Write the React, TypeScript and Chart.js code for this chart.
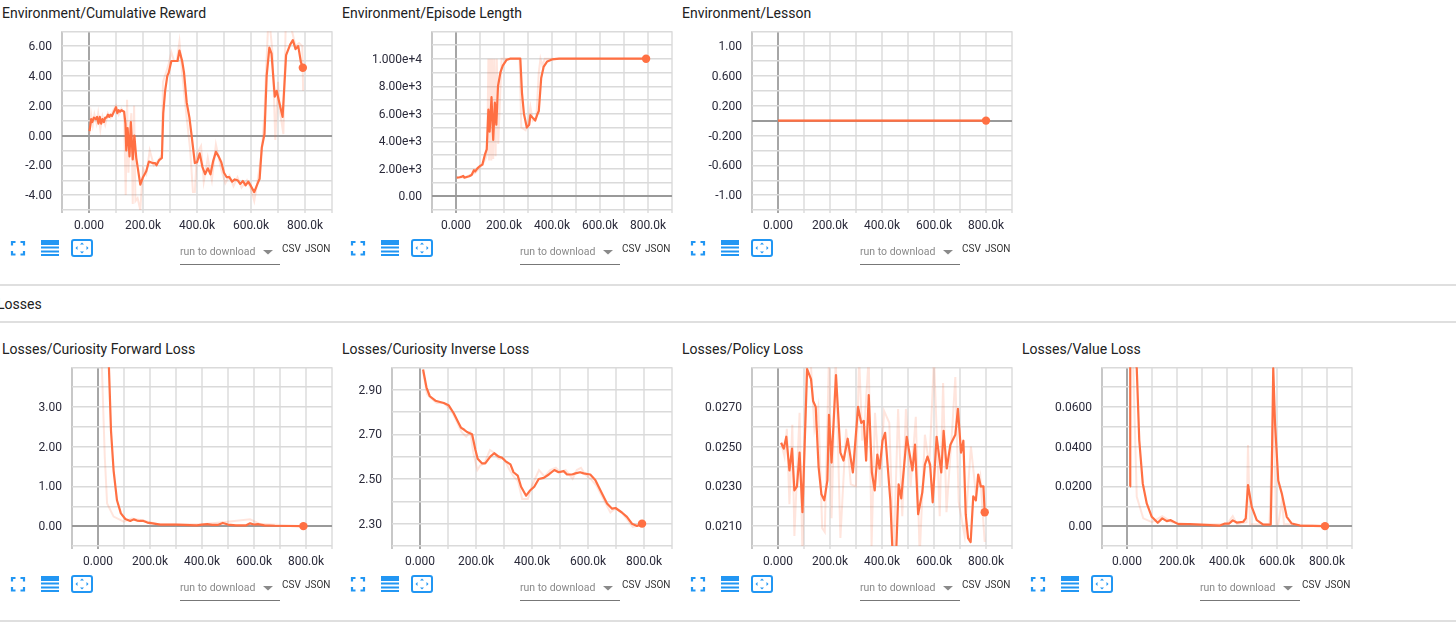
import React, { useEffect, useRef } from "react";
import { Chart, registerables } from "chart.js";

Chart.register(...registerables);

const ORANGE = "#ff7043";
const FAINT = "rgba(255,112,67,0.18)";
const FONT = "Roboto";

// Steps are in thousands.
const rewardSteps = [2,5,8,12,18,25,30,35,40,45,50,55,60,65,70,75,80,85,90,100,105,110,115,120,130,135,138,143,150,155,162,168,175,190,200,212,222,235,245,250,260,270,275,282,290,295,305,320,328,335,345,352,362,372,380,392,400,410,420,430,440,450,460,470,480,490,500,510,520,530,540,550,560,570,580,590,600,612,625,632,640,650,658,668,676,688,695,705,717,730,745,755,765,775,785,792];
const rewardSmooth = [0.3,0.7,1.1,0.9,1.2,1.1,1.25,0.8,1.25,0.8,1.1,0.9,1.2,1.2,1.4,1.25,1.4,1.3,1.5,1.9,1.5,1.7,1.6,1.7,1.6,0.8,-1.0,0.5,-1.4,0.9,-1.6,0,-1.5,-3.3,-2.8,-2.4,-1.75,-1.85,-1.85,-2.0,-1.65,-1.5,1.5,3,4,4.2,5,5,5,5.7,5,4.2,2.2,1.2,0,-1.85,-1.8,-1.2,-2.1,-2.6,-2.2,-2.6,-1.7,-1.1,-1.4,-1.8,-2.5,-2.8,-2.8,-3.1,-2.95,-3.0,-3.25,-3.05,-3.35,-3.1,-3.4,-3.8,-3.2,-2.9,-0.8,0.1,4,5.9,5.5,2.6,3,2.2,1.25,5.4,6.1,6.4,5.8,6.0,4.9,4.55];
const rewardRawSteps = [2,8,14,20,28,34,42,50,60,70,80,90,100,110,120,130,136,141,146,152,157,162,167,172,180,190,200,212,225,240,255,270,274,285,295,305,315,325,335,345,360,375,385,392,400,415,425,440,455,470,490,505,520,535,550,565,585,600,612,625,640,650,655,665,672,680,690,700,708,720,728,740,752,765,778,790,793];
const rewardRaw = [0.1,1.4,0.7,1.4,0.8,1.5,0.4,1.3,0.7,1.5,1.2,1.7,2.0,1.4,1.8,1.5,-4,2.4,-2.5,0.5,1.5,-4.6,2,-4.4,-4.2,-5,-2.2,-2.6,-1,-2,-1.7,-1.3,3.6,4.2,4.8,5.6,5,5,6.3,4.2,1.5,-1,-3.8,-3.8,-1.2,-0.7,-3.1,-1.5,-3,-0.6,-2.3,-3.2,-2.7,-3.4,-2.8,-3.5,-3,-3.6,-4.4,-3,-1,1.5,4,8,7,5.5,-0.3,3.6,1.5,0.1,7,8,7,6,6.2,6,3];

const lengthSteps = [3,15,25,30,35,45,55,65,75,80,90,100,110,120,128,135,140,148,155,162,168,175,185,195,210,225,268,275,283,295,305,310,320,330,340,345,355,365,380,400,430,792];
const lengthSmooth = [1350,1380,1430,1480,1350,1400,1450,1550,1900,1800,2050,2200,2300,3000,3400,6300,4700,7200,4100,6800,5200,8000,9000,9500,9900,10000,10000,7500,6000,5000,5200,5900,5700,5500,6000,6200,8600,9400,9800,9950,10000,10000];
const lengthRawSteps = [3,40,80,110,125,130,135,138,143,147,151,155,160,165,170,176,190,265,272,290,300,310,320,335,345,352,360,370,792];
const lengthRaw = [1350,1400,1700,2300,2800,3200,10000,2600,10000,2600,10000,2700,10000,2900,10000,3800,10000,10000,5000,4800,5300,6500,5500,5800,9000,10000,9500,10000,10000];

const lessonSteps = [0,800];
const lessonValues = [0,0];

const forwardSteps = [30,42,50,60,73,88,105,124,137,150,160,175,190,210,240,300,380,400,420,440,460,480,500,530,570,585,600,615,640,680,790];
const forwardSmooth = [8,4,2.4,1.4,0.65,0.32,0.18,0.13,0.17,0.14,0.13,0.13,0.09,0.07,0.04,0.04,0.02,0.04,0.05,0.03,0.03,0.08,0.04,0.02,0.02,0.07,0.04,0.05,0.02,0.01,0];
const forwardRawSteps = [15,26,35,60,99,130,170,230,300,400,480,585,620,790];
const forwardRaw = [4,1.75,0.57,0.24,0.11,0.19,0.15,0.05,0.05,0.05,0.1,0.17,0.06,0];

const inverseSteps = [11,23,35,55,85,102,120,132,146,158,168,186,198,206,221,233,251,265,281,293,305,323,334,349,361,379,392,408,424,442,460,480,495,513,525,543,555,572,584,608,626,650,668,686,698,721,739,757,775,793];
const inverseSmooth = [2.99,2.91,2.87,2.85,2.84,2.83,2.795,2.765,2.73,2.72,2.71,2.70,2.63,2.59,2.57,2.57,2.60,2.615,2.60,2.595,2.58,2.565,2.53,2.515,2.465,2.425,2.447,2.465,2.50,2.505,2.52,2.54,2.53,2.535,2.52,2.52,2.525,2.53,2.525,2.52,2.495,2.435,2.39,2.367,2.37,2.35,2.33,2.30,2.29,2.30];
const inverseRawSteps = [11,25,40,60,85,110,130,148,165,180,190,205,215,230,250,262,280,300,320,335,350,365,385,400,425,445,465,485,500,520,545,560,575,590,610,630,655,680,700,720,745,760,775,793];
const inverseRaw = [2.98,2.88,2.86,2.84,2.84,2.81,2.76,2.71,2.69,2.71,2.62,2.54,2.56,2.57,2.63,2.62,2.59,2.59,2.54,2.51,2.49,2.41,2.41,2.47,2.54,2.51,2.54,2.55,2.53,2.54,2.50,2.54,2.55,2.52,2.50,2.47,2.41,2.35,2.37,2.35,2.31,2.285,2.29,2.30];

const policySteps = [12,22,32,44,54,63,73,83,94,103,112,127,135,145,156,167,178,190,196,206,223,240,252,268,288,308,320,330,339,349,361,372,382,391,402,412,432,441,454,464,474,495,517,527,539,555,565,575,585,595,610,628,637,649,663,682,692,704,713,722,731,741,751,761,770,780,790,795];
const policySmooth = [0.0252,0.0249,0.0255,0.0238,0.0249,0.0228,0.023,0.0247,0.0217,0.0253,0.0289,0.0284,0.0273,0.027,0.024,0.0226,0.0223,0.0233,0.0266,0.0242,0.0286,0.0247,0.0243,0.0254,0.0237,0.027,0.0262,0.0263,0.0243,0.0276,0.0237,0.0228,0.0246,0.0239,0.0253,0.0257,0.0223,0.0195,0.0195,0.0231,0.0224,0.0255,0.0238,0.0251,0.0216,0.0227,0.0241,0.0245,0.0241,0.0222,0.0255,0.0237,0.0258,0.0239,0.0251,0.0256,0.0269,0.0247,0.0253,0.0216,0.0204,0.0202,0.0225,0.0223,0.0236,0.023,0.023,0.0217];
const policyRawSteps = [12,25,34,44,55,63,83,94,110,125,140,155,170,180,196,206,222,240,262,280,300,312,324,334,349,360,373,392,408,428,445,462,478,492,510,530,545,565,582,600,622,635,648,672,682,695,718,742,762,778,795];
const policyRaw = [0.0252,0.0245,0.0259,0.0221,0.0261,0.0205,0.0267,0.0195,0.0295,0.0295,0.0259,0.027,0.0209,0.0207,0.0295,0.0214,0.0295,0.0204,0.0259,0.0231,0.023,0.0295,0.0253,0.0264,0.0295,0.02,0.0267,0.023,0.0268,0.0262,0.0195,0.0269,0.0215,0.0269,0.023,0.0265,0.0195,0.0256,0.024,0.0295,0.0215,0.0282,0.0217,0.0263,0.0285,0.0222,0.0205,0.025,0.0225,0.0235,0.0202];

const valueSteps = [12,13,39,49,63,79,99,123,141,159,175,205,252,372,392,409,423,439,465,475,484,499,519,545,575,579,585,592,605,619,639,659,692,792];
const valueSmooth = [0.02,0.095,0.0795,0.0433,0.0215,0.0114,0.0047,0.0017,0.0039,0.0025,0.003,0.001,0.001,0.0003,0.0013,0.0013,0.0029,0.0018,0.0022,0.0039,0.0207,0.0097,0.003,0.0008,0.0008,0.0265,0.0795,0.052,0.023,0.0165,0.0047,0.0013,0.0003,0];
const valueRawSteps = [25,39,65,100,141,180,250,400,423,440,478,484,492,570,585,597,605,620,628,650,792];
const valueRaw = [0.08,0.0148,0.0039,0.002,0.005,0.002,0.001,0.001,0.005,0.001,0.002,0.0408,0.001,0.001,0.06,0.001,0.001,0.013,0.001,0.001,0];

const xTickLabels = ["0.000","200.0k","400.0k","600.0k","800.0k"];
const xTickValues = [0,200,400,600,800];

type Panel = {
  title: string; x0: number; off: number; plotLeft: number;
  yMin: number; yMax: number; yStep: number;
  yTicks: number[]; yLabels: string[];
  steps: number[]; smooth: number[]; rawSteps: number[]; raw: number[];
};

const panels: Panel[] = [
  { title: "Environment/Cumulative Reward", x0: 0, off: 0, plotLeft: 62, yMin: -5, yMax: 7, yStep: 1,
    yTicks: [6,4,2,0,-2,-4], yLabels: ["6.00","4.00","2.00","0.00","-2.00","-4.00"],
    steps: rewardSteps, smooth: rewardSmooth, rawSteps: rewardRawSteps, raw: rewardRaw },
  { title: "Environment/Episode Length", x0: 340, off: 0, plotLeft: 92, yMin: -1000, yMax: 12000, yStep: 1000,
    yTicks: [10000,8000,6000,4000,2000,0], yLabels: ["1.000e+4","8.00e+3","6.00e+3","4.00e+3","2.00e+3","0.00"],
    steps: lengthSteps, smooth: lengthSmooth, rawSteps: lengthRawSteps, raw: lengthRaw },
  { title: "Environment/Lesson", x0: 680, off: 0, plotLeft: 72, yMin: -1.2, yMax: 1.2, yStep: 0.2,
    yTicks: [1,0.6,0.2,-0.2,-0.6,-1], yLabels: ["1.00","0.600","0.200","-0.200","-0.600","-1.00"],
    steps: lessonSteps, smooth: lessonValues, rawSteps: lessonSteps, raw: lessonValues },
  { title: "Losses/Curiosity Forward Loss", x0: 0, off: 336, plotLeft: 72, yMin: -0.5, yMax: 4, yStep: 0.5,
    yTicks: [3,2,1,0], yLabels: ["3.00","2.00","1.00","0.00"],
    steps: forwardSteps, smooth: forwardSmooth, rawSteps: forwardRawSteps, raw: forwardRaw },
  { title: "Losses/Curiosity Inverse Loss", x0: 340, off: 336, plotLeft: 52, yMin: 2.2, yMax: 3, yStep: 0.1,
    yTicks: [2.9,2.7,2.5,2.3], yLabels: ["2.90","2.70","2.50","2.30"],
    steps: inverseSteps, smooth: inverseSmooth, rawSteps: inverseRawSteps, raw: inverseRaw },
  { title: "Losses/Policy Loss", x0: 680, off: 336, plotLeft: 72, yMin: 0.02, yMax: 0.029, yStep: 0.001,
    yTicks: [0.027,0.025,0.023,0.021], yLabels: ["0.0270","0.0250","0.0230","0.0210"],
    steps: policySteps, smooth: policySmooth, rawSteps: policyRawSteps, raw: policyRaw },
  { title: "Losses/Value Loss", x0: 1020, off: 336, plotLeft: 82, yMin: -0.01, yMax: 0.08, yStep: 0.01,
    yTicks: [0.06,0.04,0.02,0], yLabels: ["0.0600","0.0400","0.0200","0.00"],
    steps: valueSteps, smooth: valueSmooth, rawSteps: valueRawSteps, raw: valueRaw },
];

const zip = (xs: number[], ys: number[]) => xs.map((x, i) => ({ x, y: ys[i] }));

function PanelChart({ p }: { p: Panel }) {
  const ref = useRef<HTMLCanvasElement>(null);
  useEffect(() => {
    const last = p.steps.length - 1;
    const chart = new Chart(ref.current!, {
      type: "line",
      data: {
        datasets: [
          { data: zip(p.rawSteps, p.raw), borderColor: FAINT, borderWidth: 2, pointRadius: 0, tension: 0 },
          { data: zip(p.steps, p.smooth), borderColor: ORANGE, backgroundColor: ORANGE, borderWidth: 2.2, tension: 0,
            borderJoinStyle: "round",
            pointRadius: (c: any) => (c.dataIndex === last ? 4.2 : 0), pointBorderWidth: 0 },
        ],
      },
      options: {
        animation: false, responsive: false,
        parsing: false as any,
        layout: { autoPadding: false, padding: { left: 0, top: 7, right: 8, bottom: 0 } },
        plugins: { legend: { display: false }, tooltip: { enabled: false }, title: { display: false } },
        scales: {
          x: {
            type: "linear", min: -100, max: 900,
            afterFit: (s: any) => { s.height = 40; },
            border: { display: false },
            grid: {
              tickLength: 3,
              color: (c: any) => (c.tick.value === 0 ? "#a6a6a6" : c.tick.value === -100 ? "#c8c8c8" : "#e5e5e5"),
              lineWidth: 2,
            },
            ticks: {
              stepSize: 100, autoSkip: false, maxRotation: 0, padding: 6,
              color: "#2a2a3a", font: { family: FONT, size: 12 },
              callback: (v: any) => { const i = xTickValues.indexOf(Number(v)); return i >= 0 ? xTickLabels[i] : ""; },
            },
          },
          y: {
            type: "linear", min: p.yMin, max: p.yMax,
            afterFit: (s: any) => { s.width = p.plotLeft; },
            border: { display: false },
            grid: {
              drawTicks: false,
              color: (c: any) => (Math.abs(c.tick.value) < p.yStep / 10 ? "#999999" : "#dadada"),
              lineWidth: (c: any) => (Math.abs(c.tick.value) < p.yStep / 10 ? 2 : 1.4),
            },
            ticks: {
              stepSize: p.yStep, autoSkip: false, padding: 10, labelOffset: 1,
              color: "#2a2a3a", font: { family: FONT, size: 12 },
              callback: (v: any) => {
                const i = p.yTicks.findIndex((t) => Math.abs(t - Number(v)) < p.yStep / 10);
                return i >= 0 ? p.yLabels[i] : "";
              },
            },
          },
        },
      },
    } as any);
    return () => chart.destroy();
  }, [p]);

  const BLUE = "#2196f3";
  return (
    <div style={{ position: "absolute", left: p.x0, top: p.off, width: 340, height: 270 }}>
      <div style={{ position: "absolute", left: 2, top: 4, fontFamily: FONT, fontSize: 14, lineHeight: "18px", color: "#212121", whiteSpace: "nowrap" }}>{p.title}</div>
      <canvas ref={ref} width={340} height={236} style={{ position: "absolute", left: 0, top: 14, width: 340, height: 236, display: "block" }} />
      <svg width={100} height={24} style={{ position: "absolute", left: 0, top: 237 }}>
        <path d="M12 8.5 V5 H15.5 M20.5 5 H24 V8.5 M24 14 V17.5 H20.5 M15.5 17.5 H12 V14" fill="none" stroke={BLUE} strokeWidth={2.2} />
        <path d="M41 3 H59 V8 H41 Z M41 9.5 H59 V11.5 H41 Z M41 13.5 H59 V15.5 H41 Z M41 17 H59 V19 H41 Z" fill={BLUE} />
        <rect x={72} y={3} width={20} height={16} rx={2} fill="none" stroke={BLUE} strokeWidth={2} />
        <path d="M82 5.5 l-2 2 h4 Z M82 16.5 l-2 -2 h4 Z M75.5 11 l2 -2 v4 Z M88.5 11 l-2 -2 v4 Z" fill={BLUE} />
      </svg>
      <div style={{ position: "absolute", left: 180, top: 245, fontFamily: FONT, fontSize: 10.5, lineHeight: "13px", color: "#8a8a8a", whiteSpace: "nowrap" }}>run to download</div>
      <svg width={14} height={8} style={{ position: "absolute", left: 262, top: 249 }}>
        <path d="M1 1 H11 L6 5.5 Z" fill="#8a8a8a" />
      </svg>
      <div style={{ position: "absolute", left: 180, top: 264, width: 100, height: 1, background: "#777" }} />
      <div style={{ position: "absolute", left: 282, top: 242, fontFamily: FONT, fontSize: 10, lineHeight: "13px", color: "#333", whiteSpace: "nowrap" }}>CSV</div>
      <div style={{ position: "absolute", left: 305, top: 242, fontFamily: FONT, fontSize: 10, lineHeight: "13px", color: "#333", whiteSpace: "nowrap" }}>JSON</div>
    </div>
  );
}

function Rule({ y }: { y: number }) {
  return <div style={{ position: "absolute", left: 0, top: y, width: 1456, height: 2, background: "#dfdfdf" }} />;
}

export default function App() {
  return (
    <div style={{ position: "absolute", left: 0, top: 0, width: 1456, height: 630, overflow: "hidden", background: "#fff" }}>
      {panels.map((p) => <PanelChart key={p.title} p={p} />)}
      <Rule y={284} />
      <div style={{ position: "absolute", left: -3, top: 295, fontFamily: FONT, fontSize: 14, lineHeight: "18px", color: "#212121" }}>Losses</div>
      <Rule y={321} />
      <Rule y={620} />
    </div>
  );
}
